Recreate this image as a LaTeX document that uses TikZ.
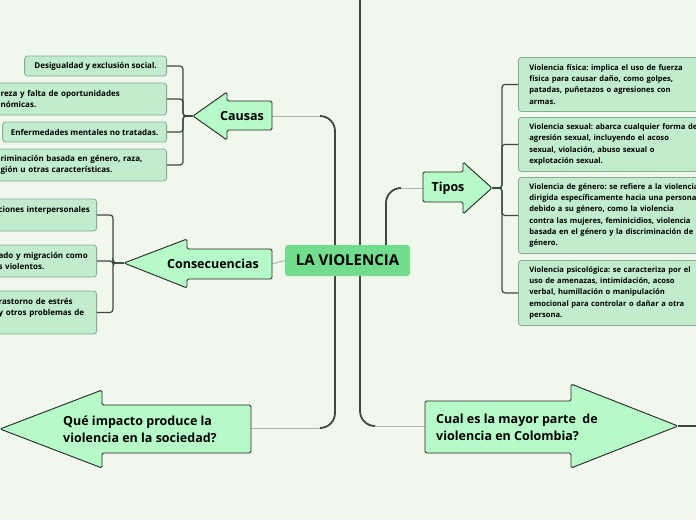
\documentclass[tikz,border=0pt]{standalone}
\usepackage{fontspec}
\setmainfont{Open Sans}
\frenchspacing
\definecolor{bg}{RGB}{240,248,238}
\definecolor{corefill}{RGB}{114,221,140}
\definecolor{mint}{RGB}{181,250,199}
\definecolor{leaffill}{RGB}{193,236,206}
\definecolor{leafline}{RGB}{135,170,145}
\definecolor{trunkc}{RGB}{62,72,62}
\definecolor{twigc}{RGB}{170,182,170}
\begin{document}
\begin{tikzpicture}
  [x=1pt,y=-1pt,
   core/.style={rounded corners=3pt,fill=corefill,font=\fontsize{15}{18}\selectfont\bfseries,minimum width=125pt,minimum height=31pt,inner sep=0pt},
   leaf/.style={rounded corners=3pt,draw=leafline,fill=leaffill,line width=0.8pt,font=\fontsize{8}{11.3}\selectfont\bfseries,inner ysep=4pt},
   tipo/.style={leaf,font=\fontsize{7.6}{11.3}\selectfont\bfseries,anchor=north west,text width=190pt,inner xsep=11pt,align=left},
   bigarrow/.style={draw=black!85,fill=mint,line width=0.9pt,rounded corners=1.5pt},
   arrowtext/.style={font=\fontsize{12.5}{17}\selectfont\bfseries,inner sep=0pt,align=left},
   trunk/.style={draw=trunkc,line width=1.8pt},
   twig/.style={draw=twigc,line width=1pt},
   branch/.style={draw=trunkc,line width=1.2pt,rounded corners=3pt}]
  \useasboundingbox (0,0) rectangle (696,520);
  \fill[bg] (0,0) rectangle (696,520);
  \clip (0,0) rectangle (696,520);

  % centre
  \coordinate (mid) at (347.5,260.5);
  \coordinate (top) at (360,0);
  \coordinate (causas-e) at (272,116);
  \coordinate (causas-tip) at (193,116);
  \coordinate (cons-e) at (272,264);
  \coordinate (cons-tip) at (124,263);
  \coordinate (que-e) at (251,428);
  \coordinate (cual-w) at (425,426);
  \coordinate (cual-tip) at (678,426);
  \coordinate (cual-out) at (700,426);
  \coordinate (tipos-w) at (423,188);
  \coordinate (tipos-tip) at (492,188);

  % main lines
  \draw[trunk,rounded corners=15pt] (top) |- (375,426);
  \draw[twig] (375,426) -- (cual-w);
  \draw[trunk,rounded corners=15pt] (mid -| 335,0) |- (320,116);
  \draw[twig] (320,116) -- (causas-e);
  \draw[trunk,rounded corners=15pt] (mid -| 335,0) |- (320,428);
  \draw[twig] (320,428) -- (que-e);
  \draw[trunk,rounded corners=15pt] (386,250) |- (401,188);
  \draw[twig] (401,188) -- (tipos-w);
  \node[core] (violencia) at (mid) {LA VIOLENCIA};
  \draw[twig] (cons-e) -- (violencia.west);

  % arrows
  \draw[bigarrow] (272,101) -- (227,101) -- (227,92) -- (causas-tip) -- (227,140) -- (227,130) -- (272,130) -- cycle;
  \node[arrowtext] (causas) at (242,116) {Causas};
  \draw[bigarrow] (272,249) -- (187,249) -- (187,239) -- (cons-tip) -- (187,288) -- (187,279) -- (272,279) -- cycle;
  \node[arrowtext] (cons) at (213,264) {Consecuencias};
  \draw[bigarrow] (251,405) -- (102,405) -- (102,390) -- (0,429) -- (102,468) -- (102,453) -- (251,453) -- cycle;
  \node[arrowtext,anchor=west] (que) at (63,429) {Qué impacto produce la\\violencia en la sociedad?};
  \draw[bigarrow] (425,401) -- (571,401) -- (571,384) -- (cual-tip) -- (571,468) -- (571,453) -- (425,453) -- cycle;
  \node[arrowtext,anchor=west] (cual) at (436,427) {Cual es la mayor parte\ \ de\\violencia en Colombia?};
  \draw[bigarrow] (423,172) -- (463,172) -- (463,162) -- (tipos-tip) -- (463,214) -- (463,202) -- (423,202) -- cycle;
  \node[arrowtext] (tipos) at (448,188) {Tipos};
  \draw[trunkc,line width=1.2pt] (cual-tip) -- (cual-out);

  % causas
  \node[leaf,anchor=east,minimum width=142pt,minimum height=20pt] (k1) at (167,66) {Desigualdad y exclusión social.};
  \node[leaf,anchor=east,text width=160pt,inner xsep=6pt,align=left,minimum height=32pt] (k2) at (167,99) {reza y falta de oportunidades\\nómicas.};
  \node[leaf,anchor=east,minimum width=164pt,minimum height=20pt] (k3) at (167,132) {Enfermedades mentales no tratadas.};
  \node[leaf,anchor=east,text width=160pt,inner xsep=6pt,align=left,minimum height=32pt] (k4) at (167,165) {riminación basada en género, raza,\\gión u otras características.};
  \draw[branch] (causas-tip) -- (183,116) |- (k1.east);
  \draw[branch] (causas-tip) -- (183,116) |- (k2.east);
  \draw[branch] (causas-tip) -- (183,116) |- (k3.east);
  \draw[branch] (causas-tip) -- (183,116) |- (k4.east);

  % consecuencias
  \node[leaf,anchor=east,text width=94pt,inner xsep=4pt,align=left,minimum height=32pt] (q1) at (97,215) {\mbox{ciones interpersonales}\\\mbox{}};
  \node[leaf,anchor=east,text width=94pt,inner xsep=4pt,align=left,minimum height=32pt] (q2) at (97,261) {\mbox{ado y migración como}\\s violentos.};
  \node[leaf,anchor=east,text width=94pt,inner xsep=4pt,align=left,minimum height=43pt] (q3) at (97,312.5) {rastorno de estrés\\\mbox{y otros problemas de}\\\mbox{}};
  \draw[branch] (cons-tip) -- (113,263) |- (q1.east);
  \draw[branch] (cons-tip) -- (113,263) |- (q2.east);
  \draw[branch] (cons-tip) -- (113,263) |- (q3.east);

  % tipos
  \node[tipo,minimum height=54pt] (t1) at (518,57) {Violencia física: implica el uso de fuerza\\física para causar daño, como golpes,\\patadas, puñetazos o agresiones con\\armas.};
  \node[tipo,minimum height=54pt] (t2) at (518,117) {Violencia sexual: abarca cualquier forma de\\agresión sexual, incluyendo el acoso\\sexual, violación, abuso sexual o\\explotación sexual.};
  \node[tipo,minimum height=76pt] (t3) at (518,177) {Violencia de género: se refiere a la violencia\\dirigida específicamente hacia una persona\\debido a su género, como la violencia\\contra las mujeres, feminicidios, violencia\\basada en el género y la discriminación de\\género.};
  \node[tipo,minimum height=65pt] (t4) at (518,260) {Violencia psicológica: se caracteriza por el\\uso de amenazas, intimidación, acoso\\verbal, humillación o manipulación\\emocional para controlar o dañar a otra\\persona.};
  \draw[branch] (tipos-tip) -- (502,188) |- (t1.west);
  \draw[branch] (tipos-tip) -- (502,188) |- (t2.west);
  \draw[branch] (tipos-tip) -- (502,188) |- (t3.west);
  \draw[branch] (tipos-tip) -- (502,188) |- (t4.west);
\end{tikzpicture}
\end{document}
